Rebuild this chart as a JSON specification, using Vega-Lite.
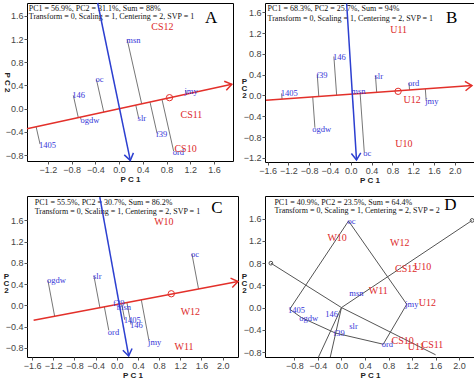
{
"$schema":"https://vega.github.io/schema/vega-lite/v6.json",
"padding":{"left":1,"top":1,"right":0,"bottom":0},
"background":"white",
"columns":2,
"bounds":"flush",
"spacing":{"row":34,"column":27},
"config":{"view":{"stroke":"#000","strokeWidth":1},
"axis":{"grid":false,"domain":false,"labelFont":"Liberation Sans","labelFontSize":9,"labelColor":"#444","tickColor":"#555","tickSize":3,"labelPadding":1,"titleFont":"Liberation Sans","titleFontSize":8,"titleFontWeight":"bold","titleColor":"#222","titlePadding":1}},
"datasets":{
"A":[
{"t":"head","x":-1.52,"y":1.72,"label":"PC1 = 56.9%, PC2 = 31.1%, Sum = 88%"},
{"t":"head","x":-1.52,"y":1.575,"label":"Transform = 0, Scaling = 1, Centering = 2, SVP = 1"},
{"t":"letter","x":1.55,"y":1.56,"label":"A"},
{"t":"proj","x":0.14,"y":1.18,"x2":0.382,"y2":0.084},
{"t":"proj","x":-0.38,"y":0.5,"x2":-0.257,"y2":-0.057},
{"t":"proj","x":-0.77,"y":0.23,"x2":-0.686,"y2":-0.152},
{"t":"proj","x":-0.64,"y":-0.19,"x2":-0.65,"y2":-0.143},
{"t":"proj","x":-1.33,"y":-0.61,"x2":-1.397,"y2":-0.309},
{"t":"proj","x":0.33,"y":-0.155,"x2":0.282,"y2":0.062},
{"t":"proj","x":0.64,"y":-0.42,"x2":0.522,"y2":0.115},
{"t":"proj","x":0.92,"y":-0.73,"x2":0.724,"y2":0.16},
{"t":"proj","x":1.12,"y":0.32,"x2":1.135,"y2":0.251},
{"t":"red","x":-1.55,"y":-0.343,"x2":1.9,"y2":0.42},
{"t":"blue","x":-0.36,"y":1.82,"x2":0.19,"y2":-0.89},
{"t":"arrowR","x":1.9,"y":0.42,"angle":-12.5},
{"t":"arrowB","x":0.19,"y":-0.89,"angle":77.5},
{"t":"circle","x":0.85,"y":0.19},
{"t":"geno","x":0.14,"y":1.19,"label":"msn"},
{"t":"geno","x":-0.38,"y":0.51,"label":"oc"},
{"t":"geno","x":-0.77,"y":0.24,"label":"146"},
{"t":"geno","x":-0.63,"y":-0.19,"label":"ogdw"},
{"t":"geno","x":-1.33,"y":-0.62,"label":"1405"},
{"t":"geno","x":0.33,"y":-0.16,"label":"slr"},
{"t":"geno","x":0.64,"y":-0.43,"label":"f39"},
{"t":"geno","x":0.92,"y":-0.74,"label":"ord"},
{"t":"geno","x":1.12,"y":0.31,"label":"jmy"},
{"t":"env","x":0.73,"y":1.41,"label":"CS12"},
{"t":"env","x":1.22,"y":-0.1,"label":"CS11"},
{"t":"env","x":1.12,"y":-0.7,"label":"CS10"}
],
"B":[
{"t":"head","x":-1.6,"y":1.665,"label":"PC1 = 68.3%, PC2 = 25.7%, Sum = 94%"},
{"t":"head","x":-1.6,"y":1.47,"label":"Transform = 0, Scaling = 1, Centering = 2, SVP = 1"},
{"t":"letter","x":1.94,"y":1.49,"label":"B"},
{"t":"proj","x":-1.33,"y":0.04,"x2":-1.322,"y2":-0.068},
{"t":"proj","x":-0.645,"y":0.4,"x2":-0.615,"y2":-0.018},
{"t":"proj","x":-0.325,"y":0.75,"x2":-0.272,"y2":0.006},
{"t":"proj","x":0.475,"y":0.38,"x2":0.498,"y2":0.06},
{"t":"proj","x":1.12,"y":0.24,"x2":1.13,"y2":0.105},
{"t":"proj","x":1.45,"y":-0.1,"x2":1.434,"y2":0.126},
{"t":"proj","x":0.26,"y":-1.1,"x2":0.18,"y2":0.038},
{"t":"proj","x":-0.69,"y":-0.62,"x2":-0.732,"y2":-0.027},
{"t":"red","x":-1.63,"y":-0.09,"x2":2.33,"y2":0.19},
{"t":"blue","x":-0.08,"y":1.77,"x2":0.11,"y2":-1.24},
{"t":"arrowR","x":2.33,"y":0.19,"angle":-4},
{"t":"arrowB","x":0.11,"y":-1.24,"angle":86.4},
{"t":"circle","x":0.91,"y":0.08},
{"t":"geno","x":-1.33,"y":0.04,"label":"1405"},
{"t":"geno","x":-0.645,"y":0.4,"label":"f39"},
{"t":"geno","x":-0.325,"y":0.75,"label":"146"},
{"t":"geno","x":0.475,"y":0.38,"label":"slr"},
{"t":"geno","x":1.12,"y":0.24,"label":"ord"},
{"t":"geno","x":1.45,"y":-0.1,"label":"jmy"},
{"t":"geno","x":0.26,"y":-1.1,"label":"oc"},
{"t":"geno","x":-0.72,"y":-0.64,"label":"ogdw"},
{"t":"geno","x":0.03,"y":0.08,"label":"msn"},
{"t":"env","x":0.92,"y":1.27,"label":"U11"},
{"t":"env","x":1.18,"y":-0.08,"label":"U12"},
{"t":"env","x":1.02,"y":-0.94,"label":"U10"}
],
"C":[
{"t":"head","x":-1.55,"y":1.93,"label":"PC1 = 55.5%, PC2 = 30.7%, Sum = 86.2%"},
{"t":"head","x":-1.55,"y":1.75,"label":"Transform = 0, Scaling = 1, Centering = 2, SVP = 1"},
{"t":"letter","x":1.89,"y":1.83,"label":"C"},
{"t":"proj","x":1.42,"y":0.97,"x2":1.545,"y2":0.309},
{"t":"proj","x":-1.3,"y":0.47,"x2":-1.1725,"y2":-0.205},
{"t":"proj","x":-0.43,"y":0.55,"x2":-0.318,"y2":-0.043},
{"t":"proj","x":-0.15,"y":-0.47,"x2":-0.234,"y2":-0.027},
{"t":"proj","x":0.61,"y":-0.67,"x2":0.464,"y2":0.105},
{"t":"proj","x":0.15,"y":-0.27,"x2":0.093,"y2":0.035},
{"t":"proj","x":0.27,"y":-0.36,"x2":0.192,"y2":0.053},
{"t":"red","x":-1.57,"y":-0.28,"x2":2.29,"y2":0.45},
{"t":"blue","x":-0.32,"y":2.04,"x2":0.225,"y2":-0.95},
{"t":"arrowR","x":2.29,"y":0.45,"angle":-10.7},
{"t":"arrowB","x":0.225,"y":-0.95,"angle":79.7},
{"t":"circle","x":1.03,"y":0.22},
{"t":"geno","x":1.42,"y":0.97,"label":"oc"},
{"t":"geno","x":-1.3,"y":0.47,"label":"ogdw"},
{"t":"geno","x":-0.43,"y":0.55,"label":"slr"},
{"t":"geno","x":-0.15,"y":-0.5,"label":"ord"},
{"t":"geno","x":0.61,"y":-0.69,"label":"jmy"},
{"t":"geno","x":0.15,"y":-0.27,"label":"1405"},
{"t":"geno","x":0.27,"y":-0.36,"label":"146"},
{"t":"geno","x":-0.05,"y":0.05,"label":"f39"},
{"t":"geno","x":0.02,"y":-0.03,"label":"msn"},
{"t":"env","x":0.89,"y":1.57,"label":"W10"},
{"t":"env","x":1.39,"y":-0.12,"label":"W12"},
{"t":"env","x":1.27,"y":-0.78,"label":"W11"}
],
"D":[
{"t":"head","x":-1.14,"y":1.884,"label":"PC1 = 40.9%, PC2 = 23.5%, Sum = 64.4%"},
{"t":"head","x":-1.14,"y":1.739,"label":"Transform = 0, Scaling = 1, Centering = 2, SVP = 2"},
{"t":"letter","x":1.85,"y":1.84,"label":"D"},
{"t":"poly","x":0.12,"y":1.56,"x2":1.11,"y2":0.06},
{"t":"poly","x":1.11,"y":0.06,"x2":0.71,"y2":-0.66},
{"t":"poly","x":0.71,"y":-0.66,"x2":-0.1,"y2":-0.46},
{"t":"poly","x":-0.1,"y":-0.46,"x2":-0.68,"y2":-0.18},
{"t":"poly","x":-0.68,"y":-0.18,"x2":-0.88,"y2":-0.03},
{"t":"poly","x":-0.88,"y":-0.03,"x2":0.12,"y2":1.56},
{"t":"ray","x":0,"y":0,"x2":2.22,"y2":1.57},
{"t":"ray","x":0,"y":0,"x2":-1.2,"y2":0.8},
{"t":"ray","x":0,"y":0,"x2":1.6,"y2":-0.85},
{"t":"ray","x":0,"y":0,"x2":-0.39,"y2":-0.89},
{"t":"ray","x":0,"y":0,"x2":-0.19,"y2":-0.89},
{"t":"end","x":-1.2,"y":0.8},
{"t":"end","x":2.22,"y":1.57},
{"t":"geno","x":0.12,"y":1.56,"label":"oc"},
{"t":"geno","x":0.15,"y":0.27,"label":"msn"},
{"t":"geno","x":-0.89,"y":-0.05,"label":"1405"},
{"t":"geno","x":-0.7,"y":-0.18,"label":"ogdw"},
{"t":"geno","x":-0.26,"y":-0.11,"label":"146"},
{"t":"geno","x":0.15,"y":-0.335,"label":"slr"},
{"t":"geno","x":-0.12,"y":-0.46,"label":"f39"},
{"t":"geno","x":0.7,"y":-0.66,"label":"ord"},
{"t":"geno","x":1.1,"y":0.06,"label":"jmy"},
{"t":"env","x":-0.074,"y":1.25,"label":"W10"},
{"t":"env","x":0.99,"y":1.16,"label":"W12"},
{"t":"env","x":1.1,"y":0.69,"label":"CS12"},
{"t":"env","x":1.38,"y":0.735,"label":"U10"},
{"t":"env","x":0.625,"y":0.3,"label":"W11"},
{"t":"env","x":1.46,"y":0.076,"label":"U12"},
{"t":"env","x":1.04,"y":-0.595,"label":"CS10"},
{"t":"env","x":1.27,"y":-0.715,"label":"U11"},
{"t":"env","x":1.546,"y":-0.68,"label":"CS11"}
]
},
"concat":[
{"width":206,"height":158,"data":{"name":"A"},
"encoding":{
"x":{"field":"x","type":"quantitative","scale":{"domain":[-1.55,1.92],"nice":false,"zero":false},"axis":{"values":[-1.2,-0.8,-0.4,0,0.4,0.8,1.2,1.6],"format":".1f","title":"P C 1"}},
"y":{"field":"y","type":"quantitative","scale":{"domain":[-0.9,1.82],"nice":false,"zero":false},"axis":{"values":[-0.8,-0.4,0,0.4,0.8,1.2,1.6],"format":".1f","title":"P C 2","titleAngle":90,"titleX":-21,"titleY":79,"titleAlign":"center","titleBaseline":"middle"}}},
"layer":[
{"transform":[{"filter":"datum.t=='head'"}],"mark":{"type":"text","align":"left","baseline":"middle","fontSize":8,"font":"Liberation Serif","color":"#111"},"encoding":{"text":{"field":"label"}}},
{"transform":[{"filter":"datum.t=='letter'"}],"mark":{"type":"text","align":"center","baseline":"middle","fontSize":17,"font":"Liberation Serif","color":"#000"},"encoding":{"text":{"field":"label"}}},
{"transform":[{"filter":"datum.t=='proj'"}],"mark":{"type":"rule","color":"#666","strokeWidth":0.9},"encoding":{"x2":{"field":"x2"},"y2":{"field":"y2"}}},
{"transform":[{"filter":"datum.t=='red'"}],"mark":{"type":"rule","color":"#e3302a","strokeWidth":1.5},"encoding":{"x2":{"field":"x2"},"y2":{"field":"y2"}}},
{"transform":[{"filter":"datum.t=='blue'"}],"mark":{"type":"rule","color":"#2c3fd0","strokeWidth":1.5},"encoding":{"x2":{"field":"x2"},"y2":{"field":"y2"}}},
{"transform":[{"filter":"datum.t=='arrowR'"}],"mark":{"type":"point","shape":"M-1,-0.7L0,0L-1,0.7","filled":false,"stroke":"#e3302a","strokeWidth":1.5,"size":180,"opacity":1},"encoding":{"angle":{"field":"angle","type":"quantitative","scale":null}}},
{"transform":[{"filter":"datum.t=='arrowB'"}],"mark":{"type":"point","shape":"M-1,-0.7L0,0L-1,0.7","filled":false,"stroke":"#2c3fd0","strokeWidth":1.5,"size":180,"opacity":1},"encoding":{"angle":{"field":"angle","type":"quantitative","scale":null}}},
{"transform":[{"filter":"datum.t=='circle'"}],"mark":{"type":"point","shape":"circle","filled":false,"stroke":"#e3302a","strokeWidth":1,"size":40,"opacity":1}},
{"transform":[{"filter":"datum.t=='geno'"}],"mark":{"type":"text","align":"left","baseline":"middle","dx":-1,"fontSize":8.5,"font":"Liberation Serif","color":"#3535d8"},"encoding":{"text":{"field":"label"}}},
{"transform":[{"filter":"datum.t=='env'"}],"mark":{"type":"text","align":"center","baseline":"middle","fontSize":10,"font":"Liberation Serif","color":"#dd2b2b"},"encoding":{"text":{"field":"label"}}}
]},
{"width":209,"height":159,"data":{"name":"B"},
"encoding":{
"x":{"field":"x","type":"quantitative","scale":{"domain":[-1.65,2.37],"nice":false,"zero":false},"axis":{"values":[-1.6,-1.2,-0.8,-0.4,0,0.4,0.8,1.2,1.6,2.0],"format":".1f","title":"P C 1"}},
"y":{"field":"y","type":"quantitative","scale":{"domain":[-1.28,1.78],"nice":false,"zero":false},"axis":{"values":[-1.2,-0.8,-0.4,0,0.4,0.8,1.2,1.6],"format":".1f","title":["P","C","2"],"titleAngle":0,"titleLineHeight":7,"titleX":-21,"titleY":78,"titleAlign":"center","titleBaseline":"middle"}}},
"layer":[
{"transform":[{"filter":"datum.t=='head'"}],"mark":{"type":"text","align":"left","baseline":"middle","fontSize":8,"font":"Liberation Serif","color":"#111"},"encoding":{"text":{"field":"label"}}},
{"transform":[{"filter":"datum.t=='letter'"}],"mark":{"type":"text","align":"center","baseline":"middle","fontSize":17,"font":"Liberation Serif","color":"#000"},"encoding":{"text":{"field":"label"}}},
{"transform":[{"filter":"datum.t=='proj'"}],"mark":{"type":"rule","color":"#666","strokeWidth":0.9},"encoding":{"x2":{"field":"x2"},"y2":{"field":"y2"}}},
{"transform":[{"filter":"datum.t=='red'"}],"mark":{"type":"rule","color":"#e3302a","strokeWidth":1.5},"encoding":{"x2":{"field":"x2"},"y2":{"field":"y2"}}},
{"transform":[{"filter":"datum.t=='blue'"}],"mark":{"type":"rule","color":"#2c3fd0","strokeWidth":1.5},"encoding":{"x2":{"field":"x2"},"y2":{"field":"y2"}}},
{"transform":[{"filter":"datum.t=='arrowR'"}],"mark":{"type":"point","shape":"M-1,-0.7L0,0L-1,0.7","filled":false,"stroke":"#e3302a","strokeWidth":1.5,"size":180,"opacity":1},"encoding":{"angle":{"field":"angle","type":"quantitative","scale":null}}},
{"transform":[{"filter":"datum.t=='arrowB'"}],"mark":{"type":"point","shape":"M-1,-0.7L0,0L-1,0.7","filled":false,"stroke":"#2c3fd0","strokeWidth":1.5,"size":180,"opacity":1},"encoding":{"angle":{"field":"angle","type":"quantitative","scale":null}}},
{"transform":[{"filter":"datum.t=='circle'"}],"mark":{"type":"point","shape":"circle","filled":false,"stroke":"#e3302a","strokeWidth":1,"size":40,"opacity":1}},
{"transform":[{"filter":"datum.t=='geno'"}],"mark":{"type":"text","align":"left","baseline":"middle","dx":-1,"fontSize":8.5,"font":"Liberation Serif","color":"#3535d8"},"encoding":{"text":{"field":"label"}}},
{"transform":[{"filter":"datum.t=='env'"}],"mark":{"type":"text","align":"center","baseline":"middle","fontSize":10,"font":"Liberation Serif","color":"#dd2b2b"},"encoding":{"text":{"field":"label"}}}
]},
{"width":211,"height":161,"data":{"name":"C"},
"encoding":{
"x":{"field":"x","type":"quantitative","scale":{"domain":[-1.695,2.29],"nice":false,"zero":false},"axis":{"values":[-1.6,-1.2,-0.8,-0.4,0,0.4,0.8,1.2,1.6,2.0],"format":".1f","title":"P C 1"}},
"y":{"field":"y","type":"quantitative","scale":{"domain":[-0.97,2.06],"nice":false,"zero":false},"axis":{"values":[-0.8,-0.4,0,0.4,0.8,1.2,1.6],"format":".1f","title":["P","C","2"],"titleAngle":0,"titleLineHeight":7,"titleX":-21,"titleY":80,"titleAlign":"center","titleBaseline":"middle"}}},
"layer":[
{"transform":[{"filter":"datum.t=='head'"}],"mark":{"type":"text","align":"left","baseline":"middle","fontSize":8,"font":"Liberation Serif","color":"#111"},"encoding":{"text":{"field":"label"}}},
{"transform":[{"filter":"datum.t=='letter'"}],"mark":{"type":"text","align":"center","baseline":"middle","fontSize":17,"font":"Liberation Serif","color":"#000"},"encoding":{"text":{"field":"label"}}},
{"transform":[{"filter":"datum.t=='proj'"}],"mark":{"type":"rule","color":"#666","strokeWidth":0.9},"encoding":{"x2":{"field":"x2"},"y2":{"field":"y2"}}},
{"transform":[{"filter":"datum.t=='red'"}],"mark":{"type":"rule","color":"#e3302a","strokeWidth":1.5},"encoding":{"x2":{"field":"x2"},"y2":{"field":"y2"}}},
{"transform":[{"filter":"datum.t=='blue'"}],"mark":{"type":"rule","color":"#2c3fd0","strokeWidth":1.5},"encoding":{"x2":{"field":"x2"},"y2":{"field":"y2"}}},
{"transform":[{"filter":"datum.t=='arrowR'"}],"mark":{"type":"point","shape":"M-1,-0.7L0,0L-1,0.7","filled":false,"stroke":"#e3302a","strokeWidth":1.5,"size":180,"opacity":1},"encoding":{"angle":{"field":"angle","type":"quantitative","scale":null}}},
{"transform":[{"filter":"datum.t=='arrowB'"}],"mark":{"type":"point","shape":"M-1,-0.7L0,0L-1,0.7","filled":false,"stroke":"#2c3fd0","strokeWidth":1.5,"size":180,"opacity":1},"encoding":{"angle":{"field":"angle","type":"quantitative","scale":null}}},
{"transform":[{"filter":"datum.t=='circle'"}],"mark":{"type":"point","shape":"circle","filled":false,"stroke":"#e3302a","strokeWidth":1,"size":40,"opacity":1}},
{"transform":[{"filter":"datum.t=='geno'"}],"mark":{"type":"text","align":"left","baseline":"middle","dx":-1,"fontSize":8.5,"font":"Liberation Serif","color":"#3535d8"},"encoding":{"text":{"field":"label"}}},
{"transform":[{"filter":"datum.t=='env'"}],"mark":{"type":"text","align":"center","baseline":"middle","fontSize":10,"font":"Liberation Serif","color":"#dd2b2b"},"encoding":{"text":{"field":"label"}}}
]},
{"width":210,"height":161,"data":{"name":"D"},
"encoding":{
"x":{"field":"x","type":"quantitative","scale":{"domain":[-1.3,2.27],"nice":false,"zero":false},"axis":{"values":[-0.8,-0.4,0,0.4,0.8,1.2,1.6,2.0],"format":".1f","title":"P C 1"}},
"y":{"field":"y","type":"quantitative","scale":{"domain":[-0.89,2.01],"nice":false,"zero":false},"axis":{"values":[-0.8,-0.4,0,0.4,0.8,1.2,1.6],"format":".1f","title":["P","C","2"],"titleAngle":0,"titleLineHeight":7,"titleX":-21,"titleY":80,"titleAlign":"center","titleBaseline":"middle"}}},
"layer":[
{"transform":[{"filter":"datum.t=='head'"}],"mark":{"type":"text","align":"left","baseline":"middle","fontSize":8,"font":"Liberation Serif","color":"#111"},"encoding":{"text":{"field":"label"}}},
{"transform":[{"filter":"datum.t=='letter'"}],"mark":{"type":"text","align":"center","baseline":"middle","fontSize":17,"font":"Liberation Serif","color":"#000"},"encoding":{"text":{"field":"label"}}},
{"transform":[{"filter":"datum.t=='poly' || datum.t=='ray'"}],"mark":{"type":"rule","color":"#555","strokeWidth":1},"encoding":{"x2":{"field":"x2"},"y2":{"field":"y2"}}},
{"transform":[{"filter":"datum.t=='end'"}],"mark":{"type":"point","shape":"circle","filled":false,"stroke":"#555","strokeWidth":1,"size":14,"opacity":1}},
{"transform":[{"filter":"datum.t=='geno'"}],"mark":{"type":"text","align":"left","baseline":"middle","dx":-1,"fontSize":8.5,"font":"Liberation Serif","color":"#3535d8"},"encoding":{"text":{"field":"label"}}},
{"transform":[{"filter":"datum.t=='env'"}],"mark":{"type":"text","align":"center","baseline":"middle","fontSize":10,"font":"Liberation Serif","color":"#dd2b2b"},"encoding":{"text":{"field":"label"}}}
]}
]
}
